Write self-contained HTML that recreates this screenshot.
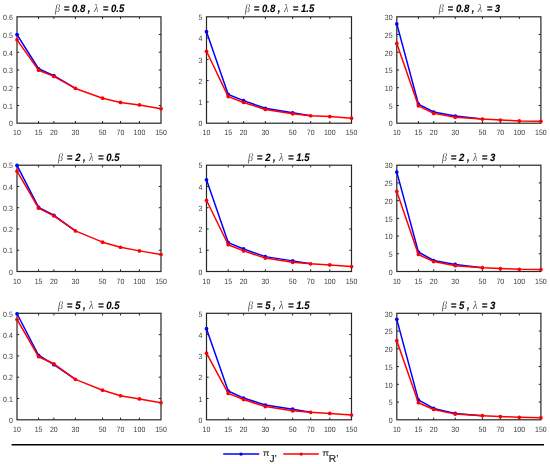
<!DOCTYPE html>
<html><head><meta charset="utf-8"><title>figure</title>
<style>
html,body{margin:0;padding:0;background:#fff;}
body{width:550px;height:464px;overflow:hidden;}
svg{display:block;text-rendering:geometricPrecision;filter:blur(0.3px);}
.tk{font-family:"Liberation Sans",Arial,sans-serif;font-size:7.00px;fill:#3a3a3a;stroke:none;}
.ti{font-family:"Liberation Sans",Arial,sans-serif;font-size:9.6px;word-spacing:0.7px;font-weight:bold;font-style:italic;fill:#000;stroke:#000;stroke-width:0.1px;}
.gr{font-family:"Liberation Serif","DejaVu Serif",serif;font-weight:normal;font-style:italic;fill:#555;stroke:none;}
</style></head><body>
<svg width="550" height="464" viewBox="0 0 550 464">
<rect width="550" height="464" fill="#fff"/>
<g><path d="M38.56 123.2v-2.2M38.56 16.8v2.2M53.86 123.2v-2.2M53.86 16.8v2.2M75.42 123.2v-2.2M75.42 16.8v2.2M102.58 123.2v-2.2M102.58 16.8v2.2M120.47 123.2v-2.2M120.47 16.8v2.2M139.44 123.2v-2.2M139.44 16.8v2.2M17 105.47h2.2M161 105.47h-2.2M17 87.73h2.2M161 87.73h-2.2M17 70h2.2M161 70h-2.2M17 52.27h2.2M161 52.27h-2.2M17 34.53h2.2M161 34.53h-2.2" stroke="#262626" stroke-width="1" fill="none"/>
<rect x="17" y="16.8" width="144" height="106.4" fill="none" stroke="#262626" stroke-width="1.2"/>
<polyline points="17,34.53 38.56,68.76 53.86,75.59 75.42,88.44" fill="none" stroke="#0000ff" stroke-width="1.5" stroke-linejoin="round"/>
<circle cx="17" cy="34.53" r="1.85" fill="#0000ff"/>
<circle cx="38.56" cy="68.76" r="1.85" fill="#0000ff"/>
<circle cx="53.86" cy="75.59" r="1.85" fill="#0000ff"/>
<polyline points="17,39.85 38.56,70.18 53.86,76.38 75.42,88.44 102.58,98.2 120.47,102.45 139.44,104.93 161,108.66" fill="none" stroke="#ff0000" stroke-width="1.5" stroke-linejoin="round"/>
<circle cx="17" cy="39.85" r="1.85" fill="#ff0000"/>
<circle cx="38.56" cy="70.18" r="1.85" fill="#ff0000"/>
<circle cx="53.86" cy="76.38" r="1.85" fill="#ff0000"/>
<circle cx="75.42" cy="88.44" r="1.85" fill="#ff0000"/>
<circle cx="102.58" cy="98.2" r="1.85" fill="#ff0000"/>
<circle cx="120.47" cy="102.45" r="1.85" fill="#ff0000"/>
<circle cx="139.44" cy="104.93" r="1.85" fill="#ff0000"/>
<circle cx="161" cy="108.66" r="1.85" fill="#ff0000"/>
<text class="tk" text-anchor="middle" transform="translate(17 135.3) scale(1 1.1)">10</text>
<text class="tk" text-anchor="middle" transform="translate(38.56 135.3) scale(1 1.1)">15</text>
<text class="tk" text-anchor="middle" transform="translate(53.86 135.3) scale(1 1.1)">20</text>
<text class="tk" text-anchor="middle" transform="translate(75.42 135.3) scale(1 1.1)">30</text>
<text class="tk" text-anchor="middle" transform="translate(102.58 135.3) scale(1 1.1)">50</text>
<text class="tk" text-anchor="middle" transform="translate(120.47 135.3) scale(1 1.1)">70</text>
<text class="tk" text-anchor="middle" transform="translate(139.44 135.3) scale(1 1.1)">100</text>
<text class="tk" text-anchor="middle" transform="translate(161 135.3) scale(1 1.1)">150</text>
<text class="tk" text-anchor="end" transform="translate(12.8 126.45) scale(1 1.1)">0</text>
<text class="tk" text-anchor="end" transform="translate(12.8 108.72) scale(1 1.1)">0.1</text>
<text class="tk" text-anchor="end" transform="translate(12.8 90.98) scale(1 1.1)">0.2</text>
<text class="tk" text-anchor="end" transform="translate(12.8 73.25) scale(1 1.1)">0.3</text>
<text class="tk" text-anchor="end" transform="translate(12.8 55.52) scale(1 1.1)">0.4</text>
<text class="tk" text-anchor="end" transform="translate(12.8 37.78) scale(1 1.1)">0.5</text>
<text class="tk" text-anchor="end" transform="translate(12.8 20.05) scale(1 1.1)">0.6</text>
<text class="ti" text-anchor="middle" transform="translate(88.7 12.4) scale(1 1.12)"><tspan class="gr" font-size="10.0" dx="0.9">&#946;</tspan> <tspan dx="0.4">=</tspan> <tspan dx="-0.6">0.8</tspan> <tspan dx="-0.9">,</tspan> <tspan class="gr" font-size="10.2">&#955;</tspan> <tspan dx="1.1">=</tspan> <tspan dx="-0.8">0.5</tspan></text></g>
<g><path d="M228.21 123.2v-2.2M228.21 16.8v2.2M243.61 123.2v-2.2M243.61 16.8v2.2M265.32 123.2v-2.2M265.32 16.8v2.2M292.68 123.2v-2.2M292.68 16.8v2.2M310.69 123.2v-2.2M310.69 16.8v2.2M329.79 123.2v-2.2M329.79 16.8v2.2M206.5 101.92h2.2M351.5 101.92h-2.2M206.5 80.64h2.2M351.5 80.64h-2.2M206.5 59.36h2.2M351.5 59.36h-2.2M206.5 38.08h2.2M351.5 38.08h-2.2" stroke="#262626" stroke-width="1" fill="none"/>
<rect x="206.5" y="16.8" width="145" height="106.4" fill="none" stroke="#262626" stroke-width="1.2"/>
<polyline points="206.5,31.7 228.21,94.47 243.61,100.64 265.32,108.3 292.68,112.77 310.69,115.75" fill="none" stroke="#0000ff" stroke-width="1.5" stroke-linejoin="round"/>
<circle cx="206.5" cy="31.7" r="1.85" fill="#0000ff"/>
<circle cx="228.21" cy="94.47" r="1.85" fill="#0000ff"/>
<circle cx="243.61" cy="100.64" r="1.85" fill="#0000ff"/>
<circle cx="265.32" cy="108.3" r="1.85" fill="#0000ff"/>
<circle cx="292.68" cy="112.77" r="1.85" fill="#0000ff"/>
<polyline points="206.5,51.27 228.21,96.6 243.61,102.45 265.32,109.47 292.68,113.84 310.69,115.75 329.79,116.6 351.5,118.2" fill="none" stroke="#ff0000" stroke-width="1.5" stroke-linejoin="round"/>
<circle cx="206.5" cy="51.27" r="1.85" fill="#ff0000"/>
<circle cx="228.21" cy="96.6" r="1.85" fill="#ff0000"/>
<circle cx="243.61" cy="102.45" r="1.85" fill="#ff0000"/>
<circle cx="265.32" cy="109.47" r="1.85" fill="#ff0000"/>
<circle cx="292.68" cy="113.84" r="1.85" fill="#ff0000"/>
<circle cx="310.69" cy="115.75" r="1.85" fill="#ff0000"/>
<circle cx="329.79" cy="116.6" r="1.85" fill="#ff0000"/>
<circle cx="351.5" cy="118.2" r="1.85" fill="#ff0000"/>
<text class="tk" text-anchor="middle" transform="translate(206.5 135.3) scale(1 1.1)">10</text>
<text class="tk" text-anchor="middle" transform="translate(228.21 135.3) scale(1 1.1)">15</text>
<text class="tk" text-anchor="middle" transform="translate(243.61 135.3) scale(1 1.1)">20</text>
<text class="tk" text-anchor="middle" transform="translate(265.32 135.3) scale(1 1.1)">30</text>
<text class="tk" text-anchor="middle" transform="translate(292.68 135.3) scale(1 1.1)">50</text>
<text class="tk" text-anchor="middle" transform="translate(310.69 135.3) scale(1 1.1)">70</text>
<text class="tk" text-anchor="middle" transform="translate(329.79 135.3) scale(1 1.1)">100</text>
<text class="tk" text-anchor="middle" transform="translate(351.5 135.3) scale(1 1.1)">150</text>
<text class="tk" text-anchor="end" transform="translate(202.3 126.45) scale(1 1.1)">0</text>
<text class="tk" text-anchor="end" transform="translate(202.3 105.17) scale(1 1.1)">1</text>
<text class="tk" text-anchor="end" transform="translate(202.3 83.89) scale(1 1.1)">2</text>
<text class="tk" text-anchor="end" transform="translate(202.3 62.61) scale(1 1.1)">3</text>
<text class="tk" text-anchor="end" transform="translate(202.3 41.33) scale(1 1.1)">4</text>
<text class="tk" text-anchor="end" transform="translate(202.3 20.05) scale(1 1.1)">5</text>
<text class="ti" text-anchor="middle" transform="translate(278.7 12.4) scale(1 1.12)"><tspan class="gr" font-size="10.0" dx="0.9">&#946;</tspan> <tspan dx="0.4">=</tspan> <tspan dx="-0.6">0.8</tspan> <tspan dx="-0.9">,</tspan> <tspan class="gr" font-size="10.2">&#955;</tspan> <tspan dx="1.1">=</tspan> <tspan dx="-0.8">1.5</tspan></text></g>
<g><path d="M418.38 123.2v-2.2M418.38 16.8v2.2M433.68 123.2v-2.2M433.68 16.8v2.2M455.26 123.2v-2.2M455.26 16.8v2.2M482.44 123.2v-2.2M482.44 16.8v2.2M500.35 123.2v-2.2M500.35 16.8v2.2M519.32 123.2v-2.2M519.32 16.8v2.2M396.8 105.47h2.2M540.9 105.47h-2.2M396.8 87.73h2.2M540.9 87.73h-2.2M396.8 70h2.2M540.9 70h-2.2M396.8 52.27h2.2M540.9 52.27h-2.2M396.8 34.53h2.2M540.9 34.53h-2.2" stroke="#262626" stroke-width="1" fill="none"/>
<rect x="396.8" y="16.8" width="144.1" height="106.4" fill="none" stroke="#262626" stroke-width="1.2"/>
<polyline points="396.8,23.89 418.38,104.05 433.68,111.99 455.26,116.11 482.44,119.09" fill="none" stroke="#0000ff" stroke-width="1.5" stroke-linejoin="round"/>
<circle cx="396.8" cy="23.89" r="1.85" fill="#0000ff"/>
<circle cx="418.38" cy="104.05" r="1.85" fill="#0000ff"/>
<circle cx="433.68" cy="111.99" r="1.85" fill="#0000ff"/>
<circle cx="455.26" cy="116.11" r="1.85" fill="#0000ff"/>
<polyline points="396.8,43.4 418.38,105.82 433.68,113.38 455.26,117.28 482.44,119.09 500.35,120.01 519.32,120.89 540.9,121.36" fill="none" stroke="#ff0000" stroke-width="1.5" stroke-linejoin="round"/>
<circle cx="396.8" cy="43.4" r="1.85" fill="#ff0000"/>
<circle cx="418.38" cy="105.82" r="1.85" fill="#ff0000"/>
<circle cx="433.68" cy="113.38" r="1.85" fill="#ff0000"/>
<circle cx="455.26" cy="117.28" r="1.85" fill="#ff0000"/>
<circle cx="482.44" cy="119.09" r="1.85" fill="#ff0000"/>
<circle cx="500.35" cy="120.01" r="1.85" fill="#ff0000"/>
<circle cx="519.32" cy="120.89" r="1.85" fill="#ff0000"/>
<circle cx="540.9" cy="121.36" r="1.85" fill="#ff0000"/>
<text class="tk" text-anchor="middle" transform="translate(396.8 135.3) scale(1 1.1)">10</text>
<text class="tk" text-anchor="middle" transform="translate(418.38 135.3) scale(1 1.1)">15</text>
<text class="tk" text-anchor="middle" transform="translate(433.68 135.3) scale(1 1.1)">20</text>
<text class="tk" text-anchor="middle" transform="translate(455.26 135.3) scale(1 1.1)">30</text>
<text class="tk" text-anchor="middle" transform="translate(482.44 135.3) scale(1 1.1)">50</text>
<text class="tk" text-anchor="middle" transform="translate(500.35 135.3) scale(1 1.1)">70</text>
<text class="tk" text-anchor="middle" transform="translate(519.32 135.3) scale(1 1.1)">100</text>
<text class="tk" text-anchor="middle" transform="translate(540.9 135.3) scale(1 1.1)">150</text>
<text class="tk" text-anchor="end" transform="translate(392.6 126.45) scale(1 1.1)">0</text>
<text class="tk" text-anchor="end" transform="translate(392.6 108.72) scale(1 1.1)">5</text>
<text class="tk" text-anchor="end" transform="translate(392.6 90.98) scale(1 1.1)">10</text>
<text class="tk" text-anchor="end" transform="translate(392.6 73.25) scale(1 1.1)">15</text>
<text class="tk" text-anchor="end" transform="translate(392.6 55.52) scale(1 1.1)">20</text>
<text class="tk" text-anchor="end" transform="translate(392.6 37.78) scale(1 1.1)">25</text>
<text class="tk" text-anchor="end" transform="translate(392.6 20.05) scale(1 1.1)">30</text>
<text class="ti" text-anchor="middle" transform="translate(468.55 12.4) scale(1 1.12)"><tspan class="gr" font-size="10.0" dx="0.9">&#946;</tspan> <tspan dx="0.4">=</tspan> <tspan dx="-0.6">0.8</tspan> <tspan dx="-0.9">,</tspan> <tspan class="gr" font-size="10.2">&#955;</tspan> <tspan dx="1.1">=</tspan> <tspan dx="-0.8">3</tspan></text></g>
<g><path d="M38.56 271.5v-2.2M38.56 165.2v2.2M53.86 271.5v-2.2M53.86 165.2v2.2M75.42 271.5v-2.2M75.42 165.2v2.2M102.58 271.5v-2.2M102.58 165.2v2.2M120.47 271.5v-2.2M120.47 165.2v2.2M139.44 271.5v-2.2M139.44 165.2v2.2M17 250.24h2.2M161 250.24h-2.2M17 228.98h2.2M161 228.98h-2.2M17 207.72h2.2M161 207.72h-2.2M17 186.46h2.2M161 186.46h-2.2" stroke="#262626" stroke-width="1" fill="none"/>
<rect x="17" y="165.2" width="144" height="106.3" fill="none" stroke="#262626" stroke-width="1.2"/>
<polyline points="17,165.41 38.56,207.29 53.86,215.27 75.42,230.89" fill="none" stroke="#0000ff" stroke-width="1.5" stroke-linejoin="round"/>
<circle cx="17" cy="165.41" r="1.85" fill="#0000ff"/>
<circle cx="38.56" cy="207.29" r="1.85" fill="#0000ff"/>
<circle cx="53.86" cy="215.27" r="1.85" fill="#0000ff"/>
<polyline points="17,171.15 38.56,208.15 53.86,215.8 75.42,230.89 102.58,242.16 120.47,247.26 139.44,250.88 161,254.49" fill="none" stroke="#ff0000" stroke-width="1.5" stroke-linejoin="round"/>
<circle cx="17" cy="171.15" r="1.85" fill="#ff0000"/>
<circle cx="38.56" cy="208.15" r="1.85" fill="#ff0000"/>
<circle cx="53.86" cy="215.8" r="1.85" fill="#ff0000"/>
<circle cx="75.42" cy="230.89" r="1.85" fill="#ff0000"/>
<circle cx="102.58" cy="242.16" r="1.85" fill="#ff0000"/>
<circle cx="120.47" cy="247.26" r="1.85" fill="#ff0000"/>
<circle cx="139.44" cy="250.88" r="1.85" fill="#ff0000"/>
<circle cx="161" cy="254.49" r="1.85" fill="#ff0000"/>
<text class="tk" text-anchor="middle" transform="translate(17 283.6) scale(1 1.1)">10</text>
<text class="tk" text-anchor="middle" transform="translate(38.56 283.6) scale(1 1.1)">15</text>
<text class="tk" text-anchor="middle" transform="translate(53.86 283.6) scale(1 1.1)">20</text>
<text class="tk" text-anchor="middle" transform="translate(75.42 283.6) scale(1 1.1)">30</text>
<text class="tk" text-anchor="middle" transform="translate(102.58 283.6) scale(1 1.1)">50</text>
<text class="tk" text-anchor="middle" transform="translate(120.47 283.6) scale(1 1.1)">70</text>
<text class="tk" text-anchor="middle" transform="translate(139.44 283.6) scale(1 1.1)">100</text>
<text class="tk" text-anchor="middle" transform="translate(161 283.6) scale(1 1.1)">150</text>
<text class="tk" text-anchor="end" transform="translate(12.8 274.75) scale(1 1.1)">0</text>
<text class="tk" text-anchor="end" transform="translate(12.8 253.49) scale(1 1.1)">0.1</text>
<text class="tk" text-anchor="end" transform="translate(12.8 232.23) scale(1 1.1)">0.2</text>
<text class="tk" text-anchor="end" transform="translate(12.8 210.97) scale(1 1.1)">0.3</text>
<text class="tk" text-anchor="end" transform="translate(12.8 189.71) scale(1 1.1)">0.4</text>
<text class="tk" text-anchor="end" transform="translate(12.8 168.45) scale(1 1.1)">0.5</text>
<text class="ti" text-anchor="middle" transform="translate(88.2 160.8) scale(1 1.12)"><tspan class="gr" font-size="10.0" dx="0.6">&#946;</tspan> <tspan dx="0.4">=</tspan> <tspan dx="-0.6">2</tspan> <tspan dx="-0.9">,</tspan> <tspan class="gr" font-size="10.2">&#955;</tspan> <tspan dx="1.1">=</tspan> <tspan dx="-0.8">0.5</tspan></text></g>
<g><path d="M228.21 271.5v-2.2M228.21 165.2v2.2M243.61 271.5v-2.2M243.61 165.2v2.2M265.32 271.5v-2.2M265.32 165.2v2.2M292.68 271.5v-2.2M292.68 165.2v2.2M310.69 271.5v-2.2M310.69 165.2v2.2M329.79 271.5v-2.2M329.79 165.2v2.2M206.5 250.24h2.2M351.5 250.24h-2.2M206.5 228.98h2.2M351.5 228.98h-2.2M206.5 207.72h2.2M351.5 207.72h-2.2M206.5 186.46h2.2M351.5 186.46h-2.2" stroke="#262626" stroke-width="1" fill="none"/>
<rect x="206.5" y="165.2" width="145" height="106.3" fill="none" stroke="#262626" stroke-width="1.2"/>
<polyline points="206.5,179.87 228.21,242.59 243.61,248.96 265.32,256.62 292.68,260.87 310.69,263.85" fill="none" stroke="#0000ff" stroke-width="1.5" stroke-linejoin="round"/>
<circle cx="206.5" cy="179.87" r="1.85" fill="#0000ff"/>
<circle cx="228.21" cy="242.59" r="1.85" fill="#0000ff"/>
<circle cx="243.61" cy="248.96" r="1.85" fill="#0000ff"/>
<circle cx="265.32" cy="256.62" r="1.85" fill="#0000ff"/>
<circle cx="292.68" cy="260.87" r="1.85" fill="#0000ff"/>
<polyline points="206.5,200.28 228.21,244.71 243.61,250.88 265.32,258.11 292.68,262.36 310.69,263.85 329.79,264.91 351.5,266.61" fill="none" stroke="#ff0000" stroke-width="1.5" stroke-linejoin="round"/>
<circle cx="206.5" cy="200.28" r="1.85" fill="#ff0000"/>
<circle cx="228.21" cy="244.71" r="1.85" fill="#ff0000"/>
<circle cx="243.61" cy="250.88" r="1.85" fill="#ff0000"/>
<circle cx="265.32" cy="258.11" r="1.85" fill="#ff0000"/>
<circle cx="292.68" cy="262.36" r="1.85" fill="#ff0000"/>
<circle cx="310.69" cy="263.85" r="1.85" fill="#ff0000"/>
<circle cx="329.79" cy="264.91" r="1.85" fill="#ff0000"/>
<circle cx="351.5" cy="266.61" r="1.85" fill="#ff0000"/>
<text class="tk" text-anchor="middle" transform="translate(206.5 283.6) scale(1 1.1)">10</text>
<text class="tk" text-anchor="middle" transform="translate(228.21 283.6) scale(1 1.1)">15</text>
<text class="tk" text-anchor="middle" transform="translate(243.61 283.6) scale(1 1.1)">20</text>
<text class="tk" text-anchor="middle" transform="translate(265.32 283.6) scale(1 1.1)">30</text>
<text class="tk" text-anchor="middle" transform="translate(292.68 283.6) scale(1 1.1)">50</text>
<text class="tk" text-anchor="middle" transform="translate(310.69 283.6) scale(1 1.1)">70</text>
<text class="tk" text-anchor="middle" transform="translate(329.79 283.6) scale(1 1.1)">100</text>
<text class="tk" text-anchor="middle" transform="translate(351.5 283.6) scale(1 1.1)">150</text>
<text class="tk" text-anchor="end" transform="translate(202.3 274.75) scale(1 1.1)">0</text>
<text class="tk" text-anchor="end" transform="translate(202.3 253.49) scale(1 1.1)">1</text>
<text class="tk" text-anchor="end" transform="translate(202.3 232.23) scale(1 1.1)">2</text>
<text class="tk" text-anchor="end" transform="translate(202.3 210.97) scale(1 1.1)">3</text>
<text class="tk" text-anchor="end" transform="translate(202.3 189.71) scale(1 1.1)">4</text>
<text class="tk" text-anchor="end" transform="translate(202.3 168.45) scale(1 1.1)">5</text>
<text class="ti" text-anchor="middle" transform="translate(278.2 160.8) scale(1 1.12)"><tspan class="gr" font-size="10.0" dx="0.6">&#946;</tspan> <tspan dx="0.4">=</tspan> <tspan dx="-0.6">2</tspan> <tspan dx="-0.9">,</tspan> <tspan class="gr" font-size="10.2">&#955;</tspan> <tspan dx="1.1">=</tspan> <tspan dx="-0.8">1.5</tspan></text></g>
<g><path d="M418.38 271.5v-2.2M418.38 165.2v2.2M433.68 271.5v-2.2M433.68 165.2v2.2M455.26 271.5v-2.2M455.26 165.2v2.2M482.44 271.5v-2.2M482.44 165.2v2.2M500.35 271.5v-2.2M500.35 165.2v2.2M519.32 271.5v-2.2M519.32 165.2v2.2M396.8 253.78h2.2M540.9 253.78h-2.2M396.8 236.07h2.2M540.9 236.07h-2.2M396.8 218.35h2.2M540.9 218.35h-2.2M396.8 200.63h2.2M540.9 200.63h-2.2M396.8 182.92h2.2M540.9 182.92h-2.2" stroke="#262626" stroke-width="1" fill="none"/>
<rect x="396.8" y="165.2" width="144.1" height="106.3" fill="none" stroke="#262626" stroke-width="1.2"/>
<polyline points="396.8,172.11 418.38,252.01 433.68,260.52 455.26,264.41 482.44,267.71" fill="none" stroke="#0000ff" stroke-width="1.5" stroke-linejoin="round"/>
<circle cx="396.8" cy="172.11" r="1.85" fill="#0000ff"/>
<circle cx="418.38" cy="252.01" r="1.85" fill="#0000ff"/>
<circle cx="433.68" cy="260.52" r="1.85" fill="#0000ff"/>
<circle cx="455.26" cy="264.41" r="1.85" fill="#0000ff"/>
<polyline points="396.8,191.42 418.38,254.49 433.68,261.58 455.26,265.65 482.44,267.71 500.35,268.59 519.32,269.3 540.9,269.52" fill="none" stroke="#ff0000" stroke-width="1.5" stroke-linejoin="round"/>
<circle cx="396.8" cy="191.42" r="1.85" fill="#ff0000"/>
<circle cx="418.38" cy="254.49" r="1.85" fill="#ff0000"/>
<circle cx="433.68" cy="261.58" r="1.85" fill="#ff0000"/>
<circle cx="455.26" cy="265.65" r="1.85" fill="#ff0000"/>
<circle cx="482.44" cy="267.71" r="1.85" fill="#ff0000"/>
<circle cx="500.35" cy="268.59" r="1.85" fill="#ff0000"/>
<circle cx="519.32" cy="269.3" r="1.85" fill="#ff0000"/>
<circle cx="540.9" cy="269.52" r="1.85" fill="#ff0000"/>
<text class="tk" text-anchor="middle" transform="translate(396.8 283.6) scale(1 1.1)">10</text>
<text class="tk" text-anchor="middle" transform="translate(418.38 283.6) scale(1 1.1)">15</text>
<text class="tk" text-anchor="middle" transform="translate(433.68 283.6) scale(1 1.1)">20</text>
<text class="tk" text-anchor="middle" transform="translate(455.26 283.6) scale(1 1.1)">30</text>
<text class="tk" text-anchor="middle" transform="translate(482.44 283.6) scale(1 1.1)">50</text>
<text class="tk" text-anchor="middle" transform="translate(500.35 283.6) scale(1 1.1)">70</text>
<text class="tk" text-anchor="middle" transform="translate(519.32 283.6) scale(1 1.1)">100</text>
<text class="tk" text-anchor="middle" transform="translate(540.9 283.6) scale(1 1.1)">150</text>
<text class="tk" text-anchor="end" transform="translate(392.6 274.75) scale(1 1.1)">0</text>
<text class="tk" text-anchor="end" transform="translate(392.6 257.03) scale(1 1.1)">5</text>
<text class="tk" text-anchor="end" transform="translate(392.6 239.32) scale(1 1.1)">10</text>
<text class="tk" text-anchor="end" transform="translate(392.6 221.6) scale(1 1.1)">15</text>
<text class="tk" text-anchor="end" transform="translate(392.6 203.88) scale(1 1.1)">20</text>
<text class="tk" text-anchor="end" transform="translate(392.6 186.17) scale(1 1.1)">25</text>
<text class="tk" text-anchor="end" transform="translate(392.6 168.45) scale(1 1.1)">30</text>
<text class="ti" text-anchor="middle" transform="translate(468.05 160.8) scale(1 1.12)"><tspan class="gr" font-size="10.0" dx="0.6">&#946;</tspan> <tspan dx="0.4">=</tspan> <tspan dx="-0.6">2</tspan> <tspan dx="-0.9">,</tspan> <tspan class="gr" font-size="10.2">&#955;</tspan> <tspan dx="1.1">=</tspan> <tspan dx="-0.8">3</tspan></text></g>
<g><path d="M38.56 419.8v-2.2M38.56 313.3v2.2M53.86 419.8v-2.2M53.86 313.3v2.2M75.42 419.8v-2.2M75.42 313.3v2.2M102.58 419.8v-2.2M102.58 313.3v2.2M120.47 419.8v-2.2M120.47 313.3v2.2M139.44 419.8v-2.2M139.44 313.3v2.2M17 398.5h2.2M161 398.5h-2.2M17 377.2h2.2M161 377.2h-2.2M17 355.9h2.2M161 355.9h-2.2M17 334.6h2.2M161 334.6h-2.2" stroke="#262626" stroke-width="1" fill="none"/>
<rect x="17" y="313.3" width="144" height="106.5" fill="none" stroke="#262626" stroke-width="1.2"/>
<polyline points="17,313.73 38.56,355.26 53.86,364.63 75.42,379.33" fill="none" stroke="#0000ff" stroke-width="1.5" stroke-linejoin="round"/>
<circle cx="17" cy="313.73" r="1.85" fill="#0000ff"/>
<circle cx="38.56" cy="355.26" r="1.85" fill="#0000ff"/>
<circle cx="53.86" cy="364.63" r="1.85" fill="#0000ff"/>
<polyline points="17,319.48 38.56,356.75 53.86,363.78 75.42,379.33 102.58,390.19 120.47,395.73 139.44,398.93 161,402.76" fill="none" stroke="#ff0000" stroke-width="1.5" stroke-linejoin="round"/>
<circle cx="17" cy="319.48" r="1.85" fill="#ff0000"/>
<circle cx="38.56" cy="356.75" r="1.85" fill="#ff0000"/>
<circle cx="53.86" cy="363.78" r="1.85" fill="#ff0000"/>
<circle cx="75.42" cy="379.33" r="1.85" fill="#ff0000"/>
<circle cx="102.58" cy="390.19" r="1.85" fill="#ff0000"/>
<circle cx="120.47" cy="395.73" r="1.85" fill="#ff0000"/>
<circle cx="139.44" cy="398.93" r="1.85" fill="#ff0000"/>
<circle cx="161" cy="402.76" r="1.85" fill="#ff0000"/>
<text class="tk" text-anchor="middle" transform="translate(17 431.9) scale(1 1.1)">10</text>
<text class="tk" text-anchor="middle" transform="translate(38.56 431.9) scale(1 1.1)">15</text>
<text class="tk" text-anchor="middle" transform="translate(53.86 431.9) scale(1 1.1)">20</text>
<text class="tk" text-anchor="middle" transform="translate(75.42 431.9) scale(1 1.1)">30</text>
<text class="tk" text-anchor="middle" transform="translate(102.58 431.9) scale(1 1.1)">50</text>
<text class="tk" text-anchor="middle" transform="translate(120.47 431.9) scale(1 1.1)">70</text>
<text class="tk" text-anchor="middle" transform="translate(139.44 431.9) scale(1 1.1)">100</text>
<text class="tk" text-anchor="middle" transform="translate(161 431.9) scale(1 1.1)">150</text>
<text class="tk" text-anchor="end" transform="translate(12.8 423.05) scale(1 1.1)">0</text>
<text class="tk" text-anchor="end" transform="translate(12.8 401.75) scale(1 1.1)">0.1</text>
<text class="tk" text-anchor="end" transform="translate(12.8 380.45) scale(1 1.1)">0.2</text>
<text class="tk" text-anchor="end" transform="translate(12.8 359.15) scale(1 1.1)">0.3</text>
<text class="tk" text-anchor="end" transform="translate(12.8 337.85) scale(1 1.1)">0.4</text>
<text class="tk" text-anchor="end" transform="translate(12.8 316.55) scale(1 1.1)">0.5</text>
<text class="ti" text-anchor="middle" transform="translate(88.2 308.9) scale(1 1.12)"><tspan class="gr" font-size="10.0" dx="0.6">&#946;</tspan> <tspan dx="0.4">=</tspan> <tspan dx="-0.6">5</tspan> <tspan dx="-0.9">,</tspan> <tspan class="gr" font-size="10.2">&#955;</tspan> <tspan dx="1.1">=</tspan> <tspan dx="-0.8">0.5</tspan></text></g>
<g><path d="M228.21 419.8v-2.2M228.21 313.3v2.2M243.61 419.8v-2.2M243.61 313.3v2.2M265.32 419.8v-2.2M265.32 313.3v2.2M292.68 419.8v-2.2M292.68 313.3v2.2M310.69 419.8v-2.2M310.69 313.3v2.2M329.79 419.8v-2.2M329.79 313.3v2.2M206.5 398.5h2.2M351.5 398.5h-2.2M206.5 377.2h2.2M351.5 377.2h-2.2M206.5 355.9h2.2M351.5 355.9h-2.2M206.5 334.6h2.2M351.5 334.6h-2.2" stroke="#262626" stroke-width="1" fill="none"/>
<rect x="206.5" y="313.3" width="145" height="106.5" fill="none" stroke="#262626" stroke-width="1.2"/>
<polyline points="206.5,328.64 228.21,391.05 243.61,398.07 265.32,405 292.68,409.15 310.69,412.35" fill="none" stroke="#0000ff" stroke-width="1.5" stroke-linejoin="round"/>
<circle cx="206.5" cy="328.64" r="1.85" fill="#0000ff"/>
<circle cx="228.21" cy="391.05" r="1.85" fill="#0000ff"/>
<circle cx="243.61" cy="398.07" r="1.85" fill="#0000ff"/>
<circle cx="265.32" cy="405" r="1.85" fill="#0000ff"/>
<circle cx="292.68" cy="409.15" r="1.85" fill="#0000ff"/>
<polyline points="206.5,353.13 228.21,393.39 243.61,399.56 265.32,406.59 292.68,410.85 310.69,412.35 329.79,413.41 351.5,415.01" fill="none" stroke="#ff0000" stroke-width="1.5" stroke-linejoin="round"/>
<circle cx="206.5" cy="353.13" r="1.85" fill="#ff0000"/>
<circle cx="228.21" cy="393.39" r="1.85" fill="#ff0000"/>
<circle cx="243.61" cy="399.56" r="1.85" fill="#ff0000"/>
<circle cx="265.32" cy="406.59" r="1.85" fill="#ff0000"/>
<circle cx="292.68" cy="410.85" r="1.85" fill="#ff0000"/>
<circle cx="310.69" cy="412.35" r="1.85" fill="#ff0000"/>
<circle cx="329.79" cy="413.41" r="1.85" fill="#ff0000"/>
<circle cx="351.5" cy="415.01" r="1.85" fill="#ff0000"/>
<text class="tk" text-anchor="middle" transform="translate(206.5 431.9) scale(1 1.1)">10</text>
<text class="tk" text-anchor="middle" transform="translate(228.21 431.9) scale(1 1.1)">15</text>
<text class="tk" text-anchor="middle" transform="translate(243.61 431.9) scale(1 1.1)">20</text>
<text class="tk" text-anchor="middle" transform="translate(265.32 431.9) scale(1 1.1)">30</text>
<text class="tk" text-anchor="middle" transform="translate(292.68 431.9) scale(1 1.1)">50</text>
<text class="tk" text-anchor="middle" transform="translate(310.69 431.9) scale(1 1.1)">70</text>
<text class="tk" text-anchor="middle" transform="translate(329.79 431.9) scale(1 1.1)">100</text>
<text class="tk" text-anchor="middle" transform="translate(351.5 431.9) scale(1 1.1)">150</text>
<text class="tk" text-anchor="end" transform="translate(202.3 423.05) scale(1 1.1)">0</text>
<text class="tk" text-anchor="end" transform="translate(202.3 401.75) scale(1 1.1)">1</text>
<text class="tk" text-anchor="end" transform="translate(202.3 380.45) scale(1 1.1)">2</text>
<text class="tk" text-anchor="end" transform="translate(202.3 359.15) scale(1 1.1)">3</text>
<text class="tk" text-anchor="end" transform="translate(202.3 337.85) scale(1 1.1)">4</text>
<text class="tk" text-anchor="end" transform="translate(202.3 316.55) scale(1 1.1)">5</text>
<text class="ti" text-anchor="middle" transform="translate(278.2 308.9) scale(1 1.12)"><tspan class="gr" font-size="10.0" dx="0.6">&#946;</tspan> <tspan dx="0.4">=</tspan> <tspan dx="-0.6">5</tspan> <tspan dx="-0.9">,</tspan> <tspan class="gr" font-size="10.2">&#955;</tspan> <tspan dx="1.1">=</tspan> <tspan dx="-0.8">1.5</tspan></text></g>
<g><path d="M418.38 419.8v-2.2M418.38 313.3v2.2M433.68 419.8v-2.2M433.68 313.3v2.2M455.26 419.8v-2.2M455.26 313.3v2.2M482.44 419.8v-2.2M482.44 313.3v2.2M500.35 419.8v-2.2M500.35 313.3v2.2M519.32 419.8v-2.2M519.32 313.3v2.2M396.8 402.05h2.2M540.9 402.05h-2.2M396.8 384.3h2.2M540.9 384.3h-2.2M396.8 366.55h2.2M540.9 366.55h-2.2M396.8 348.8h2.2M540.9 348.8h-2.2M396.8 331.05h2.2M540.9 331.05h-2.2" stroke="#262626" stroke-width="1" fill="none"/>
<rect x="396.8" y="313.3" width="144.1" height="106.5" fill="none" stroke="#262626" stroke-width="1.2"/>
<polyline points="396.8,319.34 418.38,399.92 433.68,408.44 455.26,413.41 482.44,415.72" fill="none" stroke="#0000ff" stroke-width="1.5" stroke-linejoin="round"/>
<circle cx="396.8" cy="319.34" r="1.85" fill="#0000ff"/>
<circle cx="418.38" cy="399.92" r="1.85" fill="#0000ff"/>
<circle cx="433.68" cy="408.44" r="1.85" fill="#0000ff"/>
<circle cx="455.26" cy="413.41" r="1.85" fill="#0000ff"/>
<polyline points="396.8,340.63 418.38,402.76 433.68,409.5 455.26,414.12 482.44,415.72 500.35,416.61 519.32,417.31 540.9,417.67" fill="none" stroke="#ff0000" stroke-width="1.5" stroke-linejoin="round"/>
<circle cx="396.8" cy="340.63" r="1.85" fill="#ff0000"/>
<circle cx="418.38" cy="402.76" r="1.85" fill="#ff0000"/>
<circle cx="433.68" cy="409.5" r="1.85" fill="#ff0000"/>
<circle cx="455.26" cy="414.12" r="1.85" fill="#ff0000"/>
<circle cx="482.44" cy="415.72" r="1.85" fill="#ff0000"/>
<circle cx="500.35" cy="416.61" r="1.85" fill="#ff0000"/>
<circle cx="519.32" cy="417.31" r="1.85" fill="#ff0000"/>
<circle cx="540.9" cy="417.67" r="1.85" fill="#ff0000"/>
<text class="tk" text-anchor="middle" transform="translate(396.8 431.9) scale(1 1.1)">10</text>
<text class="tk" text-anchor="middle" transform="translate(418.38 431.9) scale(1 1.1)">15</text>
<text class="tk" text-anchor="middle" transform="translate(433.68 431.9) scale(1 1.1)">20</text>
<text class="tk" text-anchor="middle" transform="translate(455.26 431.9) scale(1 1.1)">30</text>
<text class="tk" text-anchor="middle" transform="translate(482.44 431.9) scale(1 1.1)">50</text>
<text class="tk" text-anchor="middle" transform="translate(500.35 431.9) scale(1 1.1)">70</text>
<text class="tk" text-anchor="middle" transform="translate(519.32 431.9) scale(1 1.1)">100</text>
<text class="tk" text-anchor="middle" transform="translate(540.9 431.9) scale(1 1.1)">150</text>
<text class="tk" text-anchor="end" transform="translate(392.6 423.05) scale(1 1.1)">0</text>
<text class="tk" text-anchor="end" transform="translate(392.6 405.3) scale(1 1.1)">5</text>
<text class="tk" text-anchor="end" transform="translate(392.6 387.55) scale(1 1.1)">10</text>
<text class="tk" text-anchor="end" transform="translate(392.6 369.8) scale(1 1.1)">15</text>
<text class="tk" text-anchor="end" transform="translate(392.6 352.05) scale(1 1.1)">20</text>
<text class="tk" text-anchor="end" transform="translate(392.6 334.3) scale(1 1.1)">25</text>
<text class="tk" text-anchor="end" transform="translate(392.6 316.55) scale(1 1.1)">30</text>
<text class="ti" text-anchor="middle" transform="translate(468.05 308.9) scale(1 1.12)"><tspan class="gr" font-size="10.0" dx="0.6">&#946;</tspan> <tspan dx="0.4">=</tspan> <tspan dx="-0.6">5</tspan> <tspan dx="-0.9">,</tspan> <tspan class="gr" font-size="10.2">&#955;</tspan> <tspan dx="1.1">=</tspan> <tspan dx="-0.8">3</tspan></text></g>
<path d="M11.6 444.75H544" stroke="#000" stroke-width="1.5"/>
<path d="M223.2 454.1H259.2" stroke="#0000ff" stroke-width="1.5"/><circle cx="241" cy="454.1" r="1.7" fill="#0000ff"/>
<path d="M283.2 454.1H318.8" stroke="#ff0000" stroke-width="1.5"/><circle cx="301.2" cy="454.1" r="1.7" fill="#ff0000"/>
<text x="262.8" y="456.4" font-family="Liberation Sans,sans-serif" font-size="8.8" font-weight="bold" fill="#505050">&#960;</text><text x="269.4" y="461.9" font-family="Liberation Sans,Arial,sans-serif" font-size="10.2" fill="#2a2a2a" stroke="#2a2a2a" stroke-width="0.2">J&#8217;</text>
<text x="322.3" y="456.4" font-family="Liberation Sans,sans-serif" font-size="8.8" font-weight="bold" fill="#505050">&#960;</text><text x="328.8" y="461.9" font-family="Liberation Sans,Arial,sans-serif" font-size="10.2" fill="#2a2a2a" stroke="#2a2a2a" stroke-width="0.2">R&#8217;</text>
</svg>
</body></html>
